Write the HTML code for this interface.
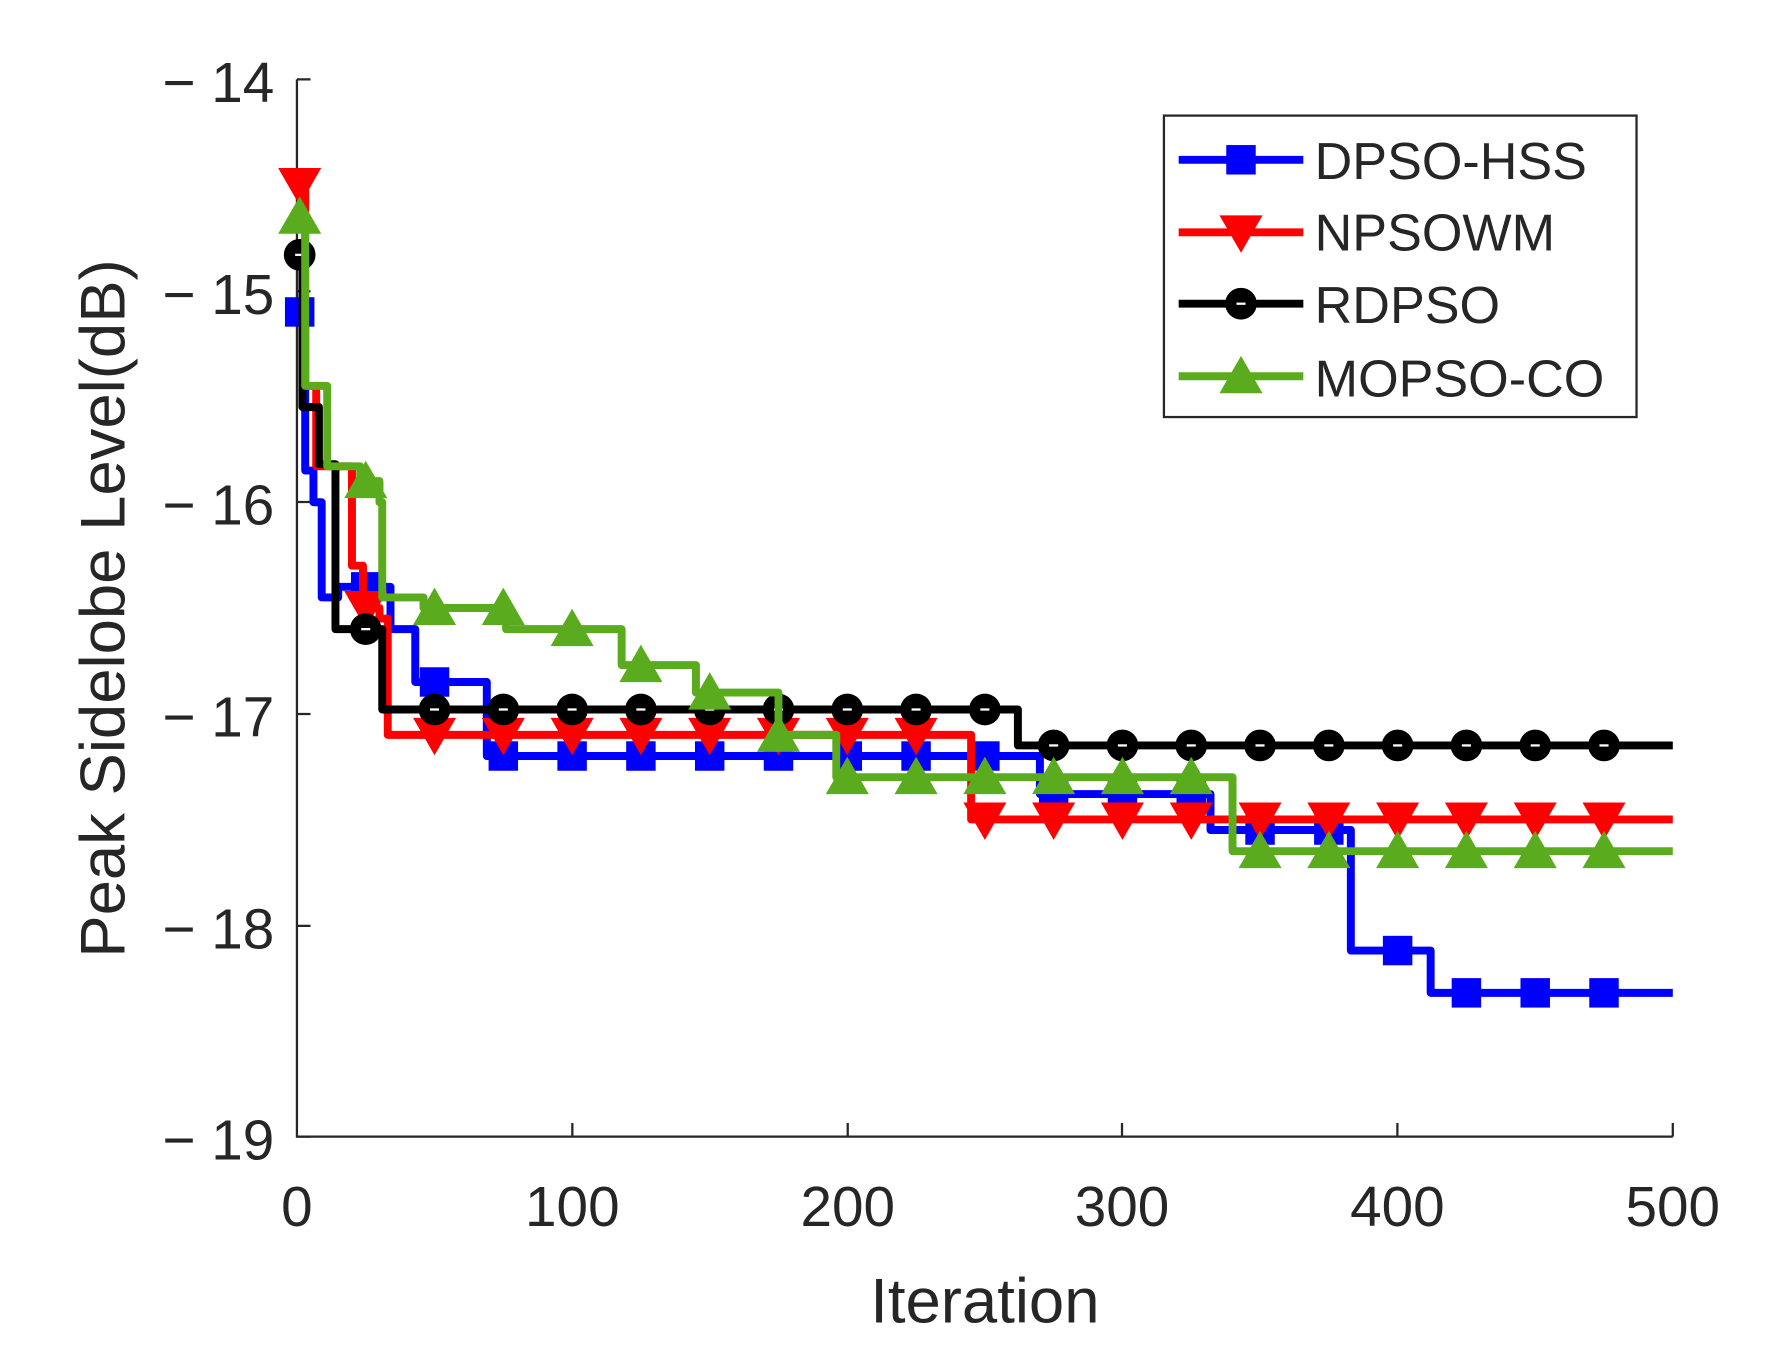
<!DOCTYPE html>
<html><head><meta charset="utf-8"><style>
html,body{margin:0;padding:0;background:#fff;}
svg{display:block;}
text{font-family:"Liberation Sans",sans-serif;fill:#262626;}
</style></head><body>
<svg id="s" width="1768" height="1348" viewBox="0 0 1560 1189.5" preserveAspectRatio="none" xmlns="http://www.w3.org/2000/svg">
<rect width="1560" height="1189.5" fill="#fff"/>
<g id="axes" stroke="#262626" stroke-width="2" fill="none">
<path d="M262,70 V1003 H1476"/>
<path d="M262,70 h12 M262,257 h12 M262,443 h12 M262,630 h12 M262,817 h12 M262,1003 h12"/>
<path d="M505,1003 v-12 M748,1003 v-12 M990,1003 v-12 M1233,1003 v-12 M1476,1003 v-12"/>
</g>
<g font-size="50" text-anchor="end">
<text x="242" y="90">− 14</text>
<text x="242" y="277">− 15</text>
<text x="242" y="463">− 16</text>
<text x="242" y="650">− 17</text>
<text x="242" y="837">− 18</text>
<text x="242" y="1023">− 19</text>
</g>
<g font-size="50" text-anchor="middle">
<text x="262" y="1082">0</text>
<text x="505" y="1082">100</text>
<text x="748" y="1082">200</text>
<text x="990" y="1082">300</text>
<text x="1233" y="1082">400</text>
<text x="1476" y="1082">500</text>
<text x="869" y="1167" font-size="56">Iteration</text>
<text transform="translate(110,537) rotate(-90)" font-size="56">Peak Sidelobe Level(dB)</text>
</g>
<g id="series"></g>
<g id="legend">
<rect x="1027" y="102" width="417" height="266" fill="#fff" stroke="#262626" stroke-width="2"/>
<g font-size="46" text-anchor="start">
<text x="1160" y="158">DPSO-HSS</text>
<text x="1160" y="221">NPSOWM</text>
<text x="1160" y="285">RDPSO</text>
<text x="1160" y="350">MOPSO-CO</text>
</g>
</g>
</svg>
<script>
var X=function(i){return 262+i*2.428;},Y=function(v){return 70+(-14-v)*186.6;};
var S=[
 {c:'#0000ff',m:'sq',d:[[0,-15.1],[3,-15.85],[6,-16.0],[9,-16.45],[15,-16.4],[34,-16.6],[43,-16.85],[69,-17.2],[270,-17.38],[332,-17.55],[383,-18.12],[412,-18.32]]},
 {c:'#ff0000',m:'dn',d:[[0,-14.5],[3,-15.45],[7,-15.83],[20,-16.3],[24,-16.5],[30,-16.55],[33,-17.1],[245,-17.5]]},
 {c:'#000000',m:'ci',d:[[0,-14.83],[2,-15.55],[8,-15.82],[14,-16.6],[31,-16.98],[262,-17.15]]},
 {c:'#5aab1e',m:'up',d:[[0,-14.65],[3,-15.45],[11,-15.83],[23,-15.9],[30,-16.0],[31,-16.45],[46,-16.5],[76,-16.6],[118,-16.77],[145,-16.9],[175,-17.1],[196,-17.3],[340,-17.65]]}
];
var ns='http://www.w3.org/2000/svg',G=document.getElementById('series'),L=document.getElementById('legend');
function el(t,a,p){var e=document.createElementNS(ns,t);for(var k in a)e.setAttribute(k,a[k]);(p||G).appendChild(e);return e;}
function mk(type,x,y,c,p){
 if(type=='sq')el('rect',{x:x-13,y:y-13,width:26,height:26,fill:c},p);
 else if(type=='dn')el('polygon',{points:(x-19)+','+(y-15)+' '+(x+19)+','+(y-15)+' '+x+','+(y+18),fill:c},p);
 else if(type=='up')el('polygon',{points:(x-19)+','+(y+15)+' '+(x+19)+','+(y+15)+' '+x+','+(y-18),fill:c},p);
 else {el('circle',{cx:x,cy:y,r:14,fill:c},p);el('line',{x1:x-4,y1:y,x2:x+4,y2:y,stroke:'#fff','stroke-width':2},p);}
}
function val(d,i){var v=d[0][1];for(var k=0;k<d.length;k++)if(d[k][0]<=i)v=d[k][1];return v;}
S.forEach(function(s,idx){
 var d=s.d,p='M'+X(1)+','+Y(d[0][1]);
 for(var k=1;k<d.length;k++){p+=' H'+X(d[k][0])+' V'+Y(d[k][1]);}
 p+=' H'+X(500);
 el('path',{d:p,fill:'none',stroke:s.c,'stroke-width':7,'stroke-linejoin':'round'});
 for(var i=0;i<500;i+=25){var ii=i==0?1:i;mk(s.m,X(ii),Y(val(d,i)),s.c);}
 var ly=[141,205,268,332][idx];
 el('line',{x1:1040,y1:ly,x2:1150,y2:ly,stroke:s.c,'stroke-width':7},L);
 mk(s.m,1095,ly,s.c,L);
});
</script>
</body></html>
